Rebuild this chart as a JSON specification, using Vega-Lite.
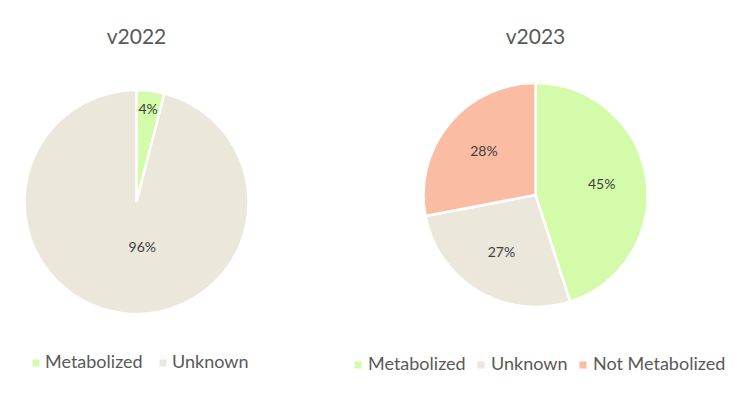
{
  "$schema": "https://vega.github.io/schema/vega-lite/v6.json",
  "padding": {"top": 27, "left": 0, "right": 0, "bottom": 0},
  "background": "white",
  "spacing": 75,
  "config": {
    "view": {"stroke": null},
    "font": "Lato",
    "title": {"fontSize": 21, "fontWeight": "normal", "color": "#595959", "font": "Lato", "offset": 20}
  },
  "resolve": {"scale": {"color": "independent", "theta": "independent"}, "legend": {"color": "independent"}},
  "datasets": {
    "v2022": [
      {"category": "Metabolized", "share": 0.04, "idx": 1},
      {"category": "Unknown", "share": 0.96, "idx": 2}
    ],
    "v2023": [
      {"category": "Metabolized", "share": 0.45, "idx": 1},
      {"category": "Unknown", "share": 0.27, "idx": 2},
      {"category": "Not Metabolized", "share": 0.28, "idx": 3}
    ]
  },
  "hconcat": [
    {
      "title": "v2022",
      "width": 273,
      "height": 268,
      "data": {"name": "v2022"},
      "encoding": {
        "theta": {"field": "share", "type": "quantitative", "stack": true},
        "order": {"field": "idx", "type": "quantitative"}
      },
      "layer": [
        {
          "mark": {"type": "arc", "radius": 112, "stroke": "white", "strokeWidth": 2.5},
          "encoding": {
            "color": {
              "field": "category", "type": "nominal",
              "scale": {"domain": ["Metabolized", "Unknown"], "range": ["#d3fbaa", "#ebe7da"]},
              "legend": {
                "orient": "none", "direction": "horizontal", "legendX": 27, "legendY": 286,
                "title": null, "symbolType": "square", "symbolSize": 50, "symbolStrokeWidth": 0,
                "labelFontSize": 18, "labelColor": "#595959", "labelFont": "Lato",
                "columnPadding": 11, "labelOffset": 0
              }
            }
          }
        },
        {
          "transform": [{"filter": "datum.category == 'Metabolized'"}],
          "mark": {"type": "text", "radius": 93, "fontSize": 14, "color": "#404040", "font": "Lato"},
          "encoding": {"text": {"field": "share", "type": "quantitative", "format": ".0%"}}
        },
        {
          "transform": [{"filter": "datum.category == 'Unknown'"}],
          "mark": {"type": "text", "radius": 46, "fontSize": 14, "color": "#404040", "font": "Lato"},
          "encoding": {"text": {"field": "share", "type": "quantitative", "format": ".0%"}}
        }
      ]
    },
    {
      "title": "v2023",
      "width": 375,
      "height": 254,
      "data": {"name": "v2023"},
      "encoding": {
        "theta": {"field": "share", "type": "quantitative", "stack": true},
        "order": {"field": "idx", "type": "quantitative"}
      },
      "layer": [
        {
          "mark": {"type": "arc", "radius": 112, "stroke": "white", "strokeWidth": 2.5},
          "encoding": {
            "color": {
              "field": "category", "type": "nominal",
              "scale": {"domain": ["Metabolized", "Unknown", "Not Metabolized"], "range": ["#d3fbaa", "#ebe7da", "#fbbca4"]},
              "legend": {
                "orient": "none", "direction": "horizontal", "legendX": 1, "legendY": 288,
                "title": null, "symbolType": "square", "symbolSize": 50, "symbolStrokeWidth": 0,
                "labelFontSize": 18, "labelColor": "#595959", "labelFont": "Lato",
                "columnPadding": 6, "labelOffset": 1
              }
            }
          }
        },
        {
          "mark": {"type": "text", "radius": 67, "fontSize": 14, "color": "#404040", "font": "Lato"},
          "encoding": {"text": {"field": "share", "type": "quantitative", "format": ".0%"}}
        }
      ]
    }
  ]
}
